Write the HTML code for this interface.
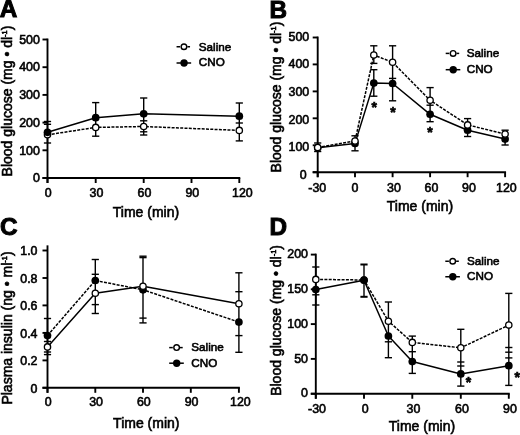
<!DOCTYPE html>
<html lang="en">
<head>
<meta charset="utf-8">
<title>Figure</title>
<style>
html,body{margin:0;padding:0;background:#fff;}
body{width:520px;height:435px;overflow:hidden;}
svg{display:block;font-family:"Liberation Sans", Arial, sans-serif;fill:#000;}
text{stroke:#000;stroke-width:0.6px;}
</style>
</head>
<body>
<svg width="520" height="435" viewBox="0 0 520 435">
<rect x="0" y="0" width="520" height="435" fill="#fff"/>
<text x="-0.30" y="17.40" font-size="24.3" text-anchor="start" font-weight="bold" style="stroke-width:1px">A</text>
<text transform="translate(12.10,101.00) rotate(-90)" font-size="14" text-anchor="middle">Blood glucose (mg • dl<tspan font-size="7.5" dy="-5">-1</tspan><tspan dy="5">)</tspan></text>
<text x="146.00" y="216.70" font-size="14" text-anchor="middle" font-weight="normal">Time (min)</text>
<polyline points="47.50,134.80 95.70,127.40 143.70,126.50 239.30,130.40" fill="none" stroke="#000" stroke-width="1.5" stroke-linejoin="round" stroke-dasharray="3 1.3"/>
<polyline points="47.50,132.30 95.70,117.70 143.70,113.80 239.30,116.20" fill="none" stroke="#000" stroke-width="1.5" stroke-linejoin="round"/>
<line x1="47.50" y1="121.50" x2="47.50" y2="143.00" stroke="#000" stroke-width="1.4" stroke-linecap="butt"/>
<line x1="43.90" y1="121.50" x2="51.10" y2="121.50" stroke="#000" stroke-width="1.4" stroke-linecap="butt"/>
<line x1="43.90" y1="124.30" x2="51.10" y2="124.30" stroke="#000" stroke-width="1.4" stroke-linecap="butt"/>
<line x1="43.90" y1="143.00" x2="51.10" y2="143.00" stroke="#000" stroke-width="1.4" stroke-linecap="butt"/>
<line x1="95.70" y1="102.60" x2="95.70" y2="136.20" stroke="#000" stroke-width="1.4" stroke-linecap="butt"/>
<line x1="92.10" y1="102.60" x2="99.30" y2="102.60" stroke="#000" stroke-width="1.4" stroke-linecap="butt"/>
<line x1="92.10" y1="136.20" x2="99.30" y2="136.20" stroke="#000" stroke-width="1.4" stroke-linecap="butt"/>
<line x1="143.70" y1="98.00" x2="143.70" y2="135.00" stroke="#000" stroke-width="1.4" stroke-linecap="butt"/>
<line x1="140.10" y1="98.00" x2="147.30" y2="98.00" stroke="#000" stroke-width="1.4" stroke-linecap="butt"/>
<line x1="140.10" y1="120.80" x2="147.30" y2="120.80" stroke="#000" stroke-width="1.4" stroke-linecap="butt"/>
<line x1="140.10" y1="131.80" x2="147.30" y2="131.80" stroke="#000" stroke-width="1.4" stroke-linecap="butt"/>
<line x1="140.10" y1="135.00" x2="147.30" y2="135.00" stroke="#000" stroke-width="1.4" stroke-linecap="butt"/>
<line x1="239.30" y1="103.00" x2="239.30" y2="140.90" stroke="#000" stroke-width="1.4" stroke-linecap="butt"/>
<line x1="235.70" y1="103.00" x2="242.90" y2="103.00" stroke="#000" stroke-width="1.4" stroke-linecap="butt"/>
<line x1="235.70" y1="123.00" x2="242.90" y2="123.00" stroke="#000" stroke-width="1.4" stroke-linecap="butt"/>
<line x1="235.70" y1="140.90" x2="242.90" y2="140.90" stroke="#000" stroke-width="1.4" stroke-linecap="butt"/>
<line x1="47.50" y1="38.55" x2="47.50" y2="183.00" stroke="#000" stroke-width="1.9" stroke-linecap="butt"/>
<line x1="42.50" y1="178.00" x2="240.25" y2="178.00" stroke="#000" stroke-width="1.9" stroke-linecap="butt"/>
<line x1="42.50" y1="178.00" x2="47.50" y2="178.00" stroke="#000" stroke-width="1.9" stroke-linecap="butt"/>
<text x="39.90" y="182.20" font-size="12.4" text-anchor="end" font-weight="normal">0</text>
<line x1="42.50" y1="150.30" x2="47.50" y2="150.30" stroke="#000" stroke-width="1.9" stroke-linecap="butt"/>
<text x="39.90" y="154.50" font-size="12.4" text-anchor="end" font-weight="normal">100</text>
<line x1="42.50" y1="122.60" x2="47.50" y2="122.60" stroke="#000" stroke-width="1.9" stroke-linecap="butt"/>
<text x="39.90" y="126.80" font-size="12.4" text-anchor="end" font-weight="normal">200</text>
<line x1="42.50" y1="94.90" x2="47.50" y2="94.90" stroke="#000" stroke-width="1.9" stroke-linecap="butt"/>
<text x="39.90" y="99.10" font-size="12.4" text-anchor="end" font-weight="normal">300</text>
<line x1="42.50" y1="67.20" x2="47.50" y2="67.20" stroke="#000" stroke-width="1.9" stroke-linecap="butt"/>
<text x="39.90" y="71.40" font-size="12.4" text-anchor="end" font-weight="normal">400</text>
<line x1="42.50" y1="39.50" x2="47.50" y2="39.50" stroke="#000" stroke-width="1.9" stroke-linecap="butt"/>
<text x="39.90" y="43.70" font-size="12.4" text-anchor="end" font-weight="normal">500</text>
<line x1="47.50" y1="178.00" x2="47.50" y2="183.00" stroke="#000" stroke-width="1.9" stroke-linecap="butt"/>
<text x="48.30" y="197.20" font-size="12.4" text-anchor="middle" font-weight="normal">0</text>
<line x1="95.70" y1="178.00" x2="95.70" y2="183.00" stroke="#000" stroke-width="1.9" stroke-linecap="butt"/>
<text x="96.50" y="197.20" font-size="12.4" text-anchor="middle" font-weight="normal">30</text>
<line x1="143.70" y1="178.00" x2="143.70" y2="183.00" stroke="#000" stroke-width="1.9" stroke-linecap="butt"/>
<text x="144.50" y="197.20" font-size="12.4" text-anchor="middle" font-weight="normal">60</text>
<line x1="191.50" y1="178.00" x2="191.50" y2="183.00" stroke="#000" stroke-width="1.9" stroke-linecap="butt"/>
<text x="192.30" y="197.20" font-size="12.4" text-anchor="middle" font-weight="normal">90</text>
<line x1="239.30" y1="178.00" x2="239.30" y2="183.00" stroke="#000" stroke-width="1.9" stroke-linecap="butt"/>
<text x="242.40" y="197.20" font-size="12.4" text-anchor="middle" font-weight="normal">120</text>
<circle cx="47.50" cy="134.80" r="3.15" fill="#fff" stroke="#000" stroke-width="1.3"/>
<circle cx="95.70" cy="127.40" r="3.15" fill="#fff" stroke="#000" stroke-width="1.3"/>
<circle cx="143.70" cy="126.50" r="3.15" fill="#fff" stroke="#000" stroke-width="1.3"/>
<circle cx="239.30" cy="130.40" r="3.15" fill="#fff" stroke="#000" stroke-width="1.3"/>
<circle cx="47.50" cy="132.30" r="3.85" fill="#000"/>
<circle cx="95.70" cy="117.70" r="3.85" fill="#000"/>
<circle cx="143.70" cy="113.80" r="3.85" fill="#000"/>
<circle cx="239.30" cy="116.20" r="3.85" fill="#000"/>
<line x1="176.55" y1="46.75" x2="180.15" y2="46.75" stroke="#000" stroke-width="1.5" stroke-linecap="butt"/>
<line x1="187.35" y1="46.75" x2="190.05" y2="46.75" stroke="#000" stroke-width="1.5" stroke-linecap="butt"/>
<circle cx="183.95" cy="46.75" r="2.8" fill="#fff" stroke="#000" stroke-width="1.4"/>
<line x1="176.55" y1="63.00" x2="191.15" y2="63.00" stroke="#000" stroke-width="1.5" stroke-linecap="butt"/>
<circle cx="184.05" cy="63.00" r="3.7" fill="#000"/>
<text x="198.75" y="50.80" font-size="11.7" text-anchor="start" font-weight="normal">Saline</text>
<text x="198.75" y="66.30" font-size="11.7" text-anchor="start" font-weight="normal">CNO</text>
<text x="269.60" y="17.80" font-size="24.3" text-anchor="start" font-weight="bold" style="stroke-width:1px">B</text>
<text transform="translate(280.50,97.00) rotate(-90)" font-size="14" text-anchor="middle">Blood glucose (mg • dl<tspan font-size="7.5" dy="-5">-1</tspan><tspan dy="5">)</tspan></text>
<text x="420.00" y="211.30" font-size="14" text-anchor="middle" font-weight="normal">Time (min)</text>
<polyline points="317.70,147.50 355.00,141.00 373.80,55.10 392.60,62.30 430.10,100.30 467.60,124.90 505.10,134.00" fill="none" stroke="#000" stroke-width="1.5" stroke-linejoin="round" stroke-dasharray="3 1.3"/>
<polyline points="317.70,147.70 355.00,143.40 373.80,83.10 392.60,83.50 430.10,114.30 467.60,130.20 505.10,139.10" fill="none" stroke="#000" stroke-width="1.5" stroke-linejoin="round"/>
<line x1="317.70" y1="143.00" x2="317.70" y2="151.50" stroke="#000" stroke-width="1.4" stroke-linecap="butt"/>
<line x1="314.10" y1="143.00" x2="321.30" y2="143.00" stroke="#000" stroke-width="1.4" stroke-linecap="butt"/>
<line x1="314.10" y1="151.50" x2="321.30" y2="151.50" stroke="#000" stroke-width="1.4" stroke-linecap="butt"/>
<line x1="355.00" y1="135.80" x2="355.00" y2="150.80" stroke="#000" stroke-width="1.4" stroke-linecap="butt"/>
<line x1="351.40" y1="135.80" x2="358.60" y2="135.80" stroke="#000" stroke-width="1.4" stroke-linecap="butt"/>
<line x1="351.40" y1="150.80" x2="358.60" y2="150.80" stroke="#000" stroke-width="1.4" stroke-linecap="butt"/>
<line x1="373.80" y1="45.80" x2="373.80" y2="63.40" stroke="#000" stroke-width="1.4" stroke-linecap="butt"/>
<line x1="373.80" y1="69.70" x2="373.80" y2="96.20" stroke="#000" stroke-width="1.4" stroke-linecap="butt"/>
<line x1="370.20" y1="45.80" x2="377.40" y2="45.80" stroke="#000" stroke-width="1.4" stroke-linecap="butt"/>
<line x1="370.20" y1="63.40" x2="377.40" y2="63.40" stroke="#000" stroke-width="1.4" stroke-linecap="butt"/>
<line x1="370.20" y1="69.70" x2="377.40" y2="69.70" stroke="#000" stroke-width="1.4" stroke-linecap="butt"/>
<line x1="370.20" y1="96.20" x2="377.40" y2="96.20" stroke="#000" stroke-width="1.4" stroke-linecap="butt"/>
<line x1="392.60" y1="45.80" x2="392.60" y2="100.80" stroke="#000" stroke-width="1.4" stroke-linecap="butt"/>
<line x1="389.00" y1="45.80" x2="396.20" y2="45.80" stroke="#000" stroke-width="1.4" stroke-linecap="butt"/>
<line x1="389.00" y1="78.40" x2="396.20" y2="78.40" stroke="#000" stroke-width="1.4" stroke-linecap="butt"/>
<line x1="389.00" y1="100.80" x2="396.20" y2="100.80" stroke="#000" stroke-width="1.4" stroke-linecap="butt"/>
<line x1="430.10" y1="87.60" x2="430.10" y2="121.70" stroke="#000" stroke-width="1.4" stroke-linecap="butt"/>
<line x1="426.50" y1="87.60" x2="433.70" y2="87.60" stroke="#000" stroke-width="1.4" stroke-linecap="butt"/>
<line x1="426.50" y1="105.20" x2="433.70" y2="105.20" stroke="#000" stroke-width="1.4" stroke-linecap="butt"/>
<line x1="426.50" y1="121.70" x2="433.70" y2="121.70" stroke="#000" stroke-width="1.4" stroke-linecap="butt"/>
<line x1="467.60" y1="118.60" x2="467.60" y2="136.50" stroke="#000" stroke-width="1.4" stroke-linecap="butt"/>
<line x1="464.00" y1="118.60" x2="471.20" y2="118.60" stroke="#000" stroke-width="1.4" stroke-linecap="butt"/>
<line x1="464.00" y1="136.50" x2="471.20" y2="136.50" stroke="#000" stroke-width="1.4" stroke-linecap="butt"/>
<line x1="505.10" y1="130.20" x2="505.10" y2="145.00" stroke="#000" stroke-width="1.4" stroke-linecap="butt"/>
<line x1="501.50" y1="130.20" x2="508.70" y2="130.20" stroke="#000" stroke-width="1.4" stroke-linecap="butt"/>
<line x1="501.50" y1="145.00" x2="508.70" y2="145.00" stroke="#000" stroke-width="1.4" stroke-linecap="butt"/>
<line x1="317.70" y1="36.55" x2="317.70" y2="177.20" stroke="#000" stroke-width="1.9" stroke-linecap="butt"/>
<line x1="312.70" y1="172.20" x2="506.05" y2="172.20" stroke="#000" stroke-width="1.9" stroke-linecap="butt"/>
<line x1="312.70" y1="172.20" x2="317.70" y2="172.20" stroke="#000" stroke-width="1.9" stroke-linecap="butt"/>
<text x="306.60" y="178.90" font-size="12.4" text-anchor="end" font-weight="normal">0</text>
<line x1="312.70" y1="145.30" x2="317.70" y2="145.30" stroke="#000" stroke-width="1.9" stroke-linecap="butt"/>
<text x="309.20" y="151.30" font-size="12.4" text-anchor="end" font-weight="normal">100</text>
<line x1="312.70" y1="118.30" x2="317.70" y2="118.30" stroke="#000" stroke-width="1.9" stroke-linecap="butt"/>
<text x="309.20" y="123.60" font-size="12.4" text-anchor="end" font-weight="normal">200</text>
<line x1="312.70" y1="91.40" x2="317.70" y2="91.40" stroke="#000" stroke-width="1.9" stroke-linecap="butt"/>
<text x="309.20" y="96.10" font-size="12.4" text-anchor="end" font-weight="normal">300</text>
<line x1="312.70" y1="64.40" x2="317.70" y2="64.40" stroke="#000" stroke-width="1.9" stroke-linecap="butt"/>
<text x="309.20" y="68.40" font-size="12.4" text-anchor="end" font-weight="normal">400</text>
<line x1="312.70" y1="37.50" x2="317.70" y2="37.50" stroke="#000" stroke-width="1.9" stroke-linecap="butt"/>
<text x="309.20" y="40.80" font-size="12.4" text-anchor="end" font-weight="normal">500</text>
<line x1="317.70" y1="172.20" x2="317.70" y2="177.20" stroke="#000" stroke-width="1.9" stroke-linecap="butt"/>
<text x="317.30" y="192.20" font-size="12.4" text-anchor="middle" font-weight="normal">-30</text>
<line x1="355.00" y1="172.20" x2="355.00" y2="177.20" stroke="#000" stroke-width="1.9" stroke-linecap="butt"/>
<text x="355.00" y="192.20" font-size="12.4" text-anchor="middle" font-weight="normal">0</text>
<line x1="392.60" y1="172.20" x2="392.60" y2="177.20" stroke="#000" stroke-width="1.9" stroke-linecap="butt"/>
<text x="393.90" y="192.20" font-size="12.4" text-anchor="middle" font-weight="normal">30</text>
<line x1="430.10" y1="172.20" x2="430.10" y2="177.20" stroke="#000" stroke-width="1.9" stroke-linecap="butt"/>
<text x="431.40" y="192.20" font-size="12.4" text-anchor="middle" font-weight="normal">60</text>
<line x1="467.60" y1="172.20" x2="467.60" y2="177.20" stroke="#000" stroke-width="1.9" stroke-linecap="butt"/>
<text x="468.90" y="192.20" font-size="12.4" text-anchor="middle" font-weight="normal">90</text>
<line x1="505.10" y1="172.20" x2="505.10" y2="177.20" stroke="#000" stroke-width="1.9" stroke-linecap="butt"/>
<text x="506.40" y="192.20" font-size="12.4" text-anchor="middle" font-weight="normal">120</text>
<circle cx="317.70" cy="147.70" r="3.85" fill="#000"/>
<circle cx="355.00" cy="143.40" r="3.85" fill="#000"/>
<circle cx="373.80" cy="83.10" r="3.85" fill="#000"/>
<circle cx="392.60" cy="83.50" r="3.85" fill="#000"/>
<circle cx="430.10" cy="114.30" r="3.85" fill="#000"/>
<circle cx="467.60" cy="130.20" r="3.85" fill="#000"/>
<circle cx="505.10" cy="139.10" r="3.85" fill="#000"/>
<circle cx="317.70" cy="147.50" r="3.15" fill="#fff" stroke="#000" stroke-width="1.3"/>
<circle cx="355.00" cy="141.00" r="3.15" fill="#fff" stroke="#000" stroke-width="1.3"/>
<circle cx="373.80" cy="55.10" r="3.15" fill="#fff" stroke="#000" stroke-width="1.3"/>
<circle cx="392.60" cy="62.30" r="3.15" fill="#fff" stroke="#000" stroke-width="1.3"/>
<circle cx="430.10" cy="100.30" r="3.15" fill="#fff" stroke="#000" stroke-width="1.3"/>
<circle cx="467.60" cy="124.90" r="3.15" fill="#fff" stroke="#000" stroke-width="1.3"/>
<circle cx="505.10" cy="134.00" r="3.15" fill="#fff" stroke="#000" stroke-width="1.3"/>
<line x1="445.70" y1="53.40" x2="449.30" y2="53.40" stroke="#000" stroke-width="1.5" stroke-linecap="butt"/>
<line x1="456.50" y1="53.40" x2="459.20" y2="53.40" stroke="#000" stroke-width="1.5" stroke-linecap="butt"/>
<circle cx="453.10" cy="53.40" r="2.8" fill="#fff" stroke="#000" stroke-width="1.4"/>
<line x1="445.70" y1="69.70" x2="460.30" y2="69.70" stroke="#000" stroke-width="1.5" stroke-linecap="butt"/>
<circle cx="453.20" cy="69.70" r="3.7" fill="#000"/>
<text x="466.70" y="57.40" font-size="11.7" text-anchor="start" font-weight="normal">Saline</text>
<text x="466.70" y="72.90" font-size="11.7" text-anchor="start" font-weight="normal">CNO</text>
<text x="374.30" y="112.20" font-size="14" text-anchor="middle" font-weight="bold">*</text>
<text x="393.00" y="117.20" font-size="14" text-anchor="middle" font-weight="bold">*</text>
<text x="430.00" y="137.40" font-size="14" text-anchor="middle" font-weight="bold">*</text>
<text x="0.00" y="235.30" font-size="24.3" text-anchor="start" font-weight="bold" style="stroke-width:1px">C</text>
<text transform="translate(11.60,328.00) rotate(-90)" font-size="14" text-anchor="middle">Plasma insulin (ng • ml<tspan font-size="7.5" dy="-5">-1</tspan><tspan dy="5">)</tspan></text>
<text x="146.30" y="428.30" font-size="14" text-anchor="middle" font-weight="normal">Time (min)</text>
<polyline points="47.50,335.50 95.30,280.50 143.00,289.80 238.90,322.10" fill="none" stroke="#000" stroke-width="1.5" stroke-linejoin="round" stroke-dasharray="3 1.3"/>
<polyline points="47.50,346.90 95.30,293.30 143.00,286.30 238.90,303.80" fill="none" stroke="#000" stroke-width="1.5" stroke-linejoin="round"/>
<line x1="47.50" y1="318.50" x2="47.50" y2="354.60" stroke="#000" stroke-width="1.4" stroke-linecap="butt"/>
<line x1="43.90" y1="318.50" x2="51.10" y2="318.50" stroke="#000" stroke-width="1.4" stroke-linecap="butt"/>
<line x1="43.90" y1="341.50" x2="51.10" y2="341.50" stroke="#000" stroke-width="1.4" stroke-linecap="butt"/>
<line x1="43.90" y1="352.00" x2="51.10" y2="352.00" stroke="#000" stroke-width="1.4" stroke-linecap="butt"/>
<line x1="43.90" y1="354.60" x2="51.10" y2="354.60" stroke="#000" stroke-width="1.4" stroke-linecap="butt"/>
<line x1="95.30" y1="259.50" x2="95.30" y2="313.50" stroke="#000" stroke-width="1.4" stroke-linecap="butt"/>
<line x1="91.70" y1="259.50" x2="98.90" y2="259.50" stroke="#000" stroke-width="1.4" stroke-linecap="butt"/>
<line x1="91.70" y1="274.30" x2="98.90" y2="274.30" stroke="#000" stroke-width="1.4" stroke-linecap="butt"/>
<line x1="91.70" y1="304.60" x2="98.90" y2="304.60" stroke="#000" stroke-width="1.4" stroke-linecap="butt"/>
<line x1="91.70" y1="313.50" x2="98.90" y2="313.50" stroke="#000" stroke-width="1.4" stroke-linecap="butt"/>
<line x1="143.00" y1="256.20" x2="143.00" y2="322.90" stroke="#000" stroke-width="1.4" stroke-linecap="butt"/>
<line x1="139.40" y1="256.20" x2="146.60" y2="256.20" stroke="#000" stroke-width="1.4" stroke-linecap="butt"/>
<line x1="139.40" y1="257.60" x2="146.60" y2="257.60" stroke="#000" stroke-width="1.4" stroke-linecap="butt"/>
<line x1="139.40" y1="318.10" x2="146.60" y2="318.10" stroke="#000" stroke-width="1.4" stroke-linecap="butt"/>
<line x1="139.40" y1="322.90" x2="146.60" y2="322.90" stroke="#000" stroke-width="1.4" stroke-linecap="butt"/>
<line x1="238.90" y1="272.80" x2="238.90" y2="352.30" stroke="#000" stroke-width="1.4" stroke-linecap="butt"/>
<line x1="235.30" y1="272.80" x2="242.50" y2="272.80" stroke="#000" stroke-width="1.4" stroke-linecap="butt"/>
<line x1="235.30" y1="291.70" x2="242.50" y2="291.70" stroke="#000" stroke-width="1.4" stroke-linecap="butt"/>
<line x1="235.30" y1="335.60" x2="242.50" y2="335.60" stroke="#000" stroke-width="1.4" stroke-linecap="butt"/>
<line x1="235.30" y1="352.30" x2="242.50" y2="352.30" stroke="#000" stroke-width="1.4" stroke-linecap="butt"/>
<line x1="47.50" y1="245.35" x2="47.50" y2="392.80" stroke="#000" stroke-width="1.9" stroke-linecap="butt"/>
<line x1="42.50" y1="387.80" x2="239.85" y2="387.80" stroke="#000" stroke-width="1.9" stroke-linecap="butt"/>
<line x1="42.50" y1="387.80" x2="47.50" y2="387.80" stroke="#000" stroke-width="1.9" stroke-linecap="butt"/>
<text x="37.50" y="392.60" font-size="12.4" text-anchor="end" font-weight="normal">0</text>
<line x1="42.50" y1="360.40" x2="47.50" y2="360.40" stroke="#000" stroke-width="1.9" stroke-linecap="butt"/>
<text x="37.50" y="365.20" font-size="12.4" text-anchor="end" font-weight="normal">0.2</text>
<line x1="42.50" y1="332.90" x2="47.50" y2="332.90" stroke="#000" stroke-width="1.9" stroke-linecap="butt"/>
<text x="37.50" y="337.70" font-size="12.4" text-anchor="end" font-weight="normal">0.4</text>
<line x1="42.50" y1="305.40" x2="47.50" y2="305.40" stroke="#000" stroke-width="1.9" stroke-linecap="butt"/>
<text x="37.50" y="310.20" font-size="12.4" text-anchor="end" font-weight="normal">0.6</text>
<line x1="42.50" y1="278.00" x2="47.50" y2="278.00" stroke="#000" stroke-width="1.9" stroke-linecap="butt"/>
<text x="37.50" y="282.80" font-size="12.4" text-anchor="end" font-weight="normal">0.8</text>
<line x1="42.50" y1="250.50" x2="47.50" y2="250.50" stroke="#000" stroke-width="1.9" stroke-linecap="butt"/>
<text x="37.50" y="255.30" font-size="12.4" text-anchor="end" font-weight="normal">1.0</text>
<line x1="47.50" y1="387.80" x2="47.50" y2="392.80" stroke="#000" stroke-width="1.9" stroke-linecap="butt"/>
<text x="48.30" y="406.00" font-size="12.4" text-anchor="middle" font-weight="normal">0</text>
<line x1="95.30" y1="387.80" x2="95.30" y2="392.80" stroke="#000" stroke-width="1.9" stroke-linecap="butt"/>
<text x="96.10" y="406.00" font-size="12.4" text-anchor="middle" font-weight="normal">30</text>
<line x1="143.00" y1="387.80" x2="143.00" y2="392.80" stroke="#000" stroke-width="1.9" stroke-linecap="butt"/>
<text x="143.80" y="406.00" font-size="12.4" text-anchor="middle" font-weight="normal">60</text>
<line x1="190.80" y1="387.80" x2="190.80" y2="392.80" stroke="#000" stroke-width="1.9" stroke-linecap="butt"/>
<text x="191.60" y="406.00" font-size="12.4" text-anchor="middle" font-weight="normal">90</text>
<line x1="238.90" y1="387.80" x2="238.90" y2="392.80" stroke="#000" stroke-width="1.9" stroke-linecap="butt"/>
<text x="240.40" y="406.00" font-size="12.4" text-anchor="middle" font-weight="normal">120</text>
<circle cx="47.50" cy="335.50" r="3.85" fill="#000"/>
<circle cx="95.30" cy="280.50" r="3.85" fill="#000"/>
<circle cx="143.00" cy="289.80" r="3.85" fill="#000"/>
<circle cx="238.90" cy="322.10" r="3.85" fill="#000"/>
<circle cx="47.50" cy="346.90" r="3.15" fill="#fff" stroke="#000" stroke-width="1.3"/>
<circle cx="95.30" cy="293.30" r="3.15" fill="#fff" stroke="#000" stroke-width="1.3"/>
<circle cx="143.00" cy="286.30" r="3.15" fill="#fff" stroke="#000" stroke-width="1.3"/>
<circle cx="238.90" cy="303.80" r="3.15" fill="#fff" stroke="#000" stroke-width="1.3"/>
<line x1="169.20" y1="347.60" x2="172.80" y2="347.60" stroke="#000" stroke-width="1.5" stroke-linecap="butt"/>
<line x1="180.00" y1="347.60" x2="182.70" y2="347.60" stroke="#000" stroke-width="1.5" stroke-linecap="butt"/>
<circle cx="176.60" cy="347.60" r="2.8" fill="#fff" stroke="#000" stroke-width="1.4"/>
<line x1="169.20" y1="363.20" x2="183.80" y2="363.20" stroke="#000" stroke-width="1.5" stroke-linecap="butt"/>
<circle cx="176.70" cy="363.20" r="3.7" fill="#000"/>
<text x="191.30" y="351.30" font-size="11.7" text-anchor="start" font-weight="normal">Saline</text>
<text x="191.30" y="366.50" font-size="11.7" text-anchor="start" font-weight="normal">CNO</text>
<text x="269.50" y="235.20" font-size="24.3" text-anchor="start" font-weight="bold" style="stroke-width:1px">D</text>
<text transform="translate(280.50,320.40) rotate(-90)" font-size="14" text-anchor="middle">Blood glucose (mg • dl<tspan font-size="7.5" dy="-5">-1</tspan><tspan dy="5">)</tspan></text>
<text x="422.00" y="431.20" font-size="14" text-anchor="middle" font-weight="normal">Time (min)</text>
<polyline points="315.80,279.40 364.00,280.00 388.40,321.20 412.30,342.40 460.80,347.80 508.80,325.10" fill="none" stroke="#000" stroke-width="1.5" stroke-linejoin="round" stroke-dasharray="3 1.3"/>
<polyline points="315.80,289.50 364.00,280.20 388.40,336.00 412.30,361.60 460.80,373.90 508.80,365.70" fill="none" stroke="#000" stroke-width="1.5" stroke-linejoin="round"/>
<line x1="315.80" y1="267.00" x2="315.80" y2="305.00" stroke="#000" stroke-width="1.4" stroke-linecap="butt"/>
<line x1="312.20" y1="267.00" x2="319.40" y2="267.00" stroke="#000" stroke-width="1.4" stroke-linecap="butt"/>
<line x1="312.20" y1="294.80" x2="319.40" y2="294.80" stroke="#000" stroke-width="1.4" stroke-linecap="butt"/>
<line x1="312.20" y1="305.00" x2="319.40" y2="305.00" stroke="#000" stroke-width="1.4" stroke-linecap="butt"/>
<line x1="364.00" y1="264.50" x2="364.00" y2="296.80" stroke="#000" stroke-width="1.4" stroke-linecap="butt"/>
<line x1="360.40" y1="264.50" x2="367.60" y2="264.50" stroke="#000" stroke-width="2" stroke-linecap="butt"/>
<line x1="360.40" y1="296.80" x2="367.60" y2="296.80" stroke="#000" stroke-width="2" stroke-linecap="butt"/>
<line x1="388.40" y1="302.00" x2="388.40" y2="357.70" stroke="#000" stroke-width="1.4" stroke-linecap="butt"/>
<line x1="384.80" y1="302.00" x2="392.00" y2="302.00" stroke="#000" stroke-width="1.4" stroke-linecap="butt"/>
<line x1="384.80" y1="341.80" x2="392.00" y2="341.80" stroke="#000" stroke-width="1.4" stroke-linecap="butt"/>
<line x1="384.80" y1="357.70" x2="392.00" y2="357.70" stroke="#000" stroke-width="1.4" stroke-linecap="butt"/>
<line x1="412.30" y1="336.10" x2="412.30" y2="373.40" stroke="#000" stroke-width="1.4" stroke-linecap="butt"/>
<line x1="408.70" y1="336.10" x2="415.90" y2="336.10" stroke="#000" stroke-width="1.4" stroke-linecap="butt"/>
<line x1="408.70" y1="351.70" x2="415.90" y2="351.70" stroke="#000" stroke-width="1.4" stroke-linecap="butt"/>
<line x1="408.70" y1="373.40" x2="415.90" y2="373.40" stroke="#000" stroke-width="1.4" stroke-linecap="butt"/>
<line x1="460.80" y1="329.30" x2="460.80" y2="386.10" stroke="#000" stroke-width="1.4" stroke-linecap="butt"/>
<line x1="457.20" y1="329.30" x2="464.40" y2="329.30" stroke="#000" stroke-width="1.4" stroke-linecap="butt"/>
<line x1="457.20" y1="362.00" x2="464.40" y2="362.00" stroke="#000" stroke-width="1.4" stroke-linecap="butt"/>
<line x1="457.20" y1="366.00" x2="464.40" y2="366.00" stroke="#000" stroke-width="1.4" stroke-linecap="butt"/>
<line x1="457.20" y1="386.10" x2="464.40" y2="386.10" stroke="#000" stroke-width="1.4" stroke-linecap="butt"/>
<line x1="508.80" y1="293.40" x2="508.80" y2="385.40" stroke="#000" stroke-width="1.4" stroke-linecap="butt"/>
<line x1="505.20" y1="293.40" x2="512.40" y2="293.40" stroke="#000" stroke-width="1.4" stroke-linecap="butt"/>
<line x1="505.20" y1="347.50" x2="512.40" y2="347.50" stroke="#000" stroke-width="1.4" stroke-linecap="butt"/>
<line x1="505.20" y1="352.20" x2="512.40" y2="352.20" stroke="#000" stroke-width="1.4" stroke-linecap="butt"/>
<line x1="505.20" y1="357.90" x2="512.40" y2="357.90" stroke="#000" stroke-width="1.4" stroke-linecap="butt"/>
<line x1="505.20" y1="385.40" x2="512.40" y2="385.40" stroke="#000" stroke-width="1.4" stroke-linecap="butt"/>
<line x1="315.80" y1="253.65" x2="315.80" y2="398.75" stroke="#000" stroke-width="1.9" stroke-linecap="butt"/>
<line x1="310.80" y1="393.75" x2="509.75" y2="393.75" stroke="#000" stroke-width="1.9" stroke-linecap="butt"/>
<line x1="310.80" y1="393.75" x2="315.80" y2="393.75" stroke="#000" stroke-width="1.9" stroke-linecap="butt"/>
<text x="308.00" y="397.35" font-size="12.4" text-anchor="end" font-weight="normal">0</text>
<line x1="310.80" y1="358.90" x2="315.80" y2="358.90" stroke="#000" stroke-width="1.9" stroke-linecap="butt"/>
<text x="308.00" y="362.50" font-size="12.4" text-anchor="end" font-weight="normal">50</text>
<line x1="310.80" y1="324.10" x2="315.80" y2="324.10" stroke="#000" stroke-width="1.9" stroke-linecap="butt"/>
<text x="308.00" y="327.70" font-size="12.4" text-anchor="end" font-weight="normal">100</text>
<line x1="310.80" y1="289.30" x2="315.80" y2="289.30" stroke="#000" stroke-width="1.9" stroke-linecap="butt"/>
<text x="308.00" y="292.90" font-size="12.4" text-anchor="end" font-weight="normal">150</text>
<line x1="310.80" y1="254.60" x2="315.80" y2="254.60" stroke="#000" stroke-width="1.9" stroke-linecap="butt"/>
<text x="308.00" y="258.20" font-size="12.4" text-anchor="end" font-weight="normal">200</text>
<line x1="315.80" y1="393.75" x2="315.80" y2="398.75" stroke="#000" stroke-width="1.9" stroke-linecap="butt"/>
<text x="317.00" y="413.35" font-size="12.4" text-anchor="middle" font-weight="normal">-30</text>
<line x1="364.00" y1="393.75" x2="364.00" y2="398.75" stroke="#000" stroke-width="1.9" stroke-linecap="butt"/>
<text x="365.20" y="413.35" font-size="12.4" text-anchor="middle" font-weight="normal">0</text>
<line x1="412.30" y1="393.75" x2="412.30" y2="398.75" stroke="#000" stroke-width="1.9" stroke-linecap="butt"/>
<text x="413.50" y="413.35" font-size="12.4" text-anchor="middle" font-weight="normal">30</text>
<line x1="460.80" y1="393.75" x2="460.80" y2="398.75" stroke="#000" stroke-width="1.9" stroke-linecap="butt"/>
<text x="462.00" y="413.35" font-size="12.4" text-anchor="middle" font-weight="normal">60</text>
<line x1="508.80" y1="393.75" x2="508.80" y2="398.75" stroke="#000" stroke-width="1.9" stroke-linecap="butt"/>
<text x="510.00" y="413.35" font-size="12.4" text-anchor="middle" font-weight="normal">90</text>
<circle cx="315.80" cy="279.40" r="3.15" fill="#fff" stroke="#000" stroke-width="1.3"/>
<circle cx="364.00" cy="280.00" r="3.15" fill="#fff" stroke="#000" stroke-width="1.3"/>
<circle cx="388.40" cy="321.20" r="3.15" fill="#fff" stroke="#000" stroke-width="1.3"/>
<circle cx="412.30" cy="342.40" r="3.15" fill="#fff" stroke="#000" stroke-width="1.3"/>
<circle cx="460.80" cy="347.80" r="3.15" fill="#fff" stroke="#000" stroke-width="1.3"/>
<circle cx="508.80" cy="325.10" r="3.15" fill="#fff" stroke="#000" stroke-width="1.3"/>
<circle cx="315.80" cy="289.50" r="3.85" fill="#000"/>
<circle cx="364.00" cy="280.20" r="3.85" fill="#000"/>
<circle cx="388.40" cy="336.00" r="3.85" fill="#000"/>
<circle cx="412.30" cy="361.60" r="3.85" fill="#000"/>
<circle cx="460.80" cy="373.90" r="3.85" fill="#000"/>
<circle cx="508.80" cy="365.70" r="3.85" fill="#000"/>
<line x1="445.30" y1="261.25" x2="448.90" y2="261.25" stroke="#000" stroke-width="1.5" stroke-linecap="butt"/>
<line x1="456.10" y1="261.25" x2="458.80" y2="261.25" stroke="#000" stroke-width="1.5" stroke-linecap="butt"/>
<circle cx="452.70" cy="261.25" r="2.8" fill="#fff" stroke="#000" stroke-width="1.4"/>
<line x1="445.30" y1="276.75" x2="459.90" y2="276.75" stroke="#000" stroke-width="1.5" stroke-linecap="butt"/>
<circle cx="452.80" cy="276.75" r="3.7" fill="#000"/>
<text x="467.00" y="265.00" font-size="11.7" text-anchor="start" font-weight="normal">Saline</text>
<text x="467.00" y="280.00" font-size="11.7" text-anchor="start" font-weight="normal">CNO</text>
<text x="468.50" y="386.90" font-size="14" text-anchor="middle" font-weight="bold">*</text>
<text x="517.20" y="382.20" font-size="14" text-anchor="middle" font-weight="bold">*</text>
</svg>
</body>
</html>
